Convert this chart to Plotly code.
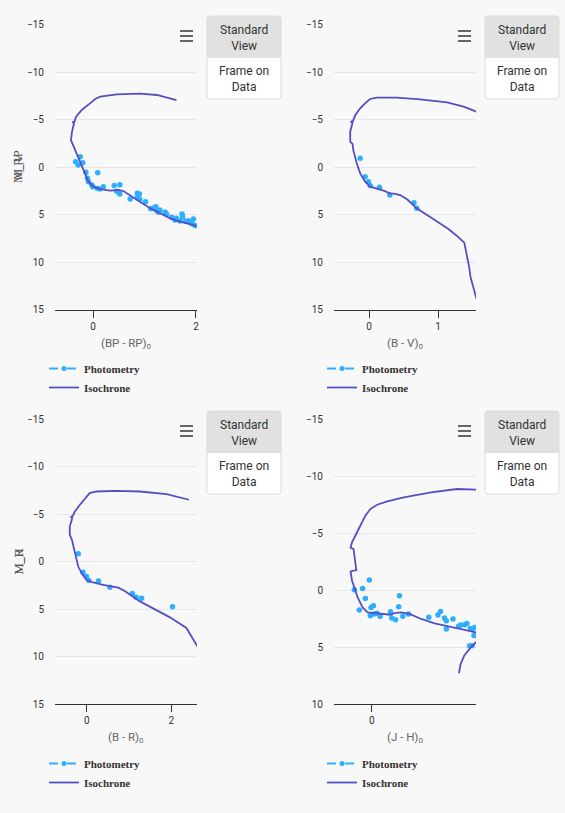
import plotly.graph_objects as go

# ---------------- data ----------------
# Panel 1: (BP - RP)0 vs M_RP
phot1_x = [-0.34, -0.25, -0.29, -0.20, -0.14, 0.09, -0.11, -0.09, -0.025, -0.006, 0.084, 0.136, 0.20, 0.41,
           0.52, 0.49, 0.52, 0.46, 0.72, 0.86, 0.90, 0.86, 0.91, 1.02, 1.12, 1.17, 1.22, 1.24, 1.27, 1.30, 1.40,
           1.43, 1.53, 1.59, 1.62, 1.69, 1.73, 1.74, 1.80, 1.85, 1.90, 1.93, 1.95, 1.98]
phot1_y = [-0.56, -1.08, -0.20, -0.45, 0.56, 0.60, 1.19, 1.54, 1.90, 2.07, 2.25, 2.32, 2.07, 1.96,
           1.86, 2.67, 2.84, 2.55, 3.37, 2.77, 2.84, 3.19, 3.40, 3.65, 4.40, 4.35, 4.18, 4.60, 4.75, 4.53, 4.77,
           4.95, 5.30, 5.58, 5.40, 5.68, 4.95, 5.23, 5.70, 5.65, 5.86, 6.00, 5.47, 6.17]
iso1_x = [2.01, 1.88, 1.69, 1.50, 1.30, 1.11, 0.91, 0.72, 0.59, 0.49, 0.33, 0.14, 0.01, -0.09, -0.155, -0.22,
          -0.32, -0.38, -0.43, -0.41, -0.37, -0.40, -0.36, -0.33, -0.22, -0.06, 0.04, 0.14, 0.46, 0.91, 1.24, 1.62]
iso1_y = [6.20, 6.03, 5.75, 5.40, 4.88, 4.35, 3.65, 2.95, 2.53, 2.42, 2.49, 2.32, 2.07, 1.54, 0.67, -0.20,
          -1.44, -2.14, -2.84, -3.70, -4.60, -4.70, -4.80, -5.30, -6.00, -6.70, -7.16, -7.40, -7.65, -7.72, -7.58, -7.05]

# Panel 2: (B - V)0 vs M_V
phot2_x = [-0.13, -0.058, -0.01, 0.014, 0.15, 0.30, 0.65, 0.69]
phot2_y = [-0.91, 1.02, 1.54, 1.96, 2.14, 2.95, 3.75, 4.35]
iso2_x = [1.58, 1.546, 1.51, 1.47, 1.45, 1.42, 1.38, 1.27, 1.15, 0.93, 0.69, 0.55, 0.45, 0.36, 0.31, 0.21,
          0.11, 0.014, -0.058, -0.13, -0.18, -0.23, -0.24, -0.275, -0.275, -0.24, -0.27, -0.235, -0.20, -0.13,
          -0.06, 0.014, 0.11, 0.40, 0.74, 1.13, 1.37, 1.546, 1.60]
iso2_y = [14.5, 13.65, 12.77, 11.55, 10.5, 9.44, 7.96, 7.23, 6.53, 5.47, 4.35, 3.40, 2.95, 2.80, 2.80, 2.49,
          2.25, 2.07, 1.54, 0.67, -0.39, -1.79, -2.42, -2.67, -3.72, -4.70, -4.75, -4.85, -5.47, -6.18,
          -6.70, -7.16, -7.30, -7.30, -7.12, -6.80, -6.35, -5.90, -5.70]

# Panel 3: (B - R)0 vs M_R
phot3_x = [-0.20, -0.088, -0.007, 0.05, 0.28, 0.55, 1.08, 1.17, 1.30, 2.03]
phot3_y = [-0.81, 1.12, 1.58, 2.00, 2.05, 2.72, 3.37, 3.77, 3.87, 4.77]
iso3_x = [2.68, 2.48, 2.36, 1.96, 1.60, 1.26, 1.08, 0.90, 0.75, 0.63, 0.55, 0.39, 0.15, -0.007, -0.12, -0.20,
          -0.28, -0.35, -0.40, -0.40, -0.34, -0.38, -0.33, -0.28, -0.16, -0.04, 0.07, 0.23, 0.70, 1.26, 1.89, 2.42]
iso3_y = [9.40, 7.89, 7.00, 5.85, 5.00, 4.20, 3.65, 3.10, 2.75, 2.62, 2.60, 2.45, 2.21, 1.93, 1.22, 0.53,
          -0.88, -2.28, -2.81, -3.68, -4.60, -4.68, -4.78, -5.26, -5.97, -6.67, -7.20, -7.37, -7.44, -7.37, -7.09, -6.50]

# Panel 4: (J - H)0 vs M_H
phot4_x = [-0.021, -0.078, -0.148, -0.055, 0.233, -0.106, -0.007, 0.013, -0.013, 0.021, 0.044, 0.07, 0.157,
           0.168, 0.20, 0.227, 0.261, 0.309, 0.481, 0.558, 0.58, 0.614, 0.629, 0.685, 0.629, 0.733, 0.75, 0.784,
           0.803, 0.832, 0.849, 0.869, 0.863, 0.846, 0.826]
phot4_y = [-0.88, -0.14, -0.03, 0.74, 0.50, 1.75, 1.53, 1.38, 2.25, 2.10, 2.05, 2.31, 1.90,
           2.46, 2.60, 1.46, 2.31, 2.10, 2.40, 2.19, 1.88, 2.46, 2.69, 2.54, 3.42, 3.19, 3.07, 3.04,
           2.93, 3.37, 3.48, 3.28, 4.00, 4.89, 4.89]
iso4_x = [0.736, 0.75, 0.78, 0.835, 0.883, 0.95, 0.883, 0.81, 0.67, 0.53, 0.417, 0.318, 0.247, 0.19, 0.16,
          0.106, 0.021, -0.036, -0.078, -0.12, -0.148, -0.168, -0.18, -0.131, -0.142, -0.155, -0.18, -0.168,
          -0.14, -0.097, -0.055, -0.013, 0.044, 0.13, 0.27, 0.50, 0.72, 0.883, 0.95]
iso4_y = [7.30, 6.50, 5.76, 5.03, 4.55, 4.00, 3.72, 3.57, 3.28, 2.93, 2.54, 2.10, 1.96, 2.02, 2.17,
          2.10, 2.05, 1.96, 1.53, 0.65, -0.23, -0.82, -1.63, -1.75, -2.57, -3.60, -3.70, -4.18,
          -4.76, -5.64, -6.52, -7.10, -7.48, -7.77, -8.12, -8.56, -8.86, -8.80, -8.78]

x_titles = ["(BP - RP)<sub>0</sub>", "(B - V)<sub>0</sub>", "(B - R)<sub>0</sub>", "(J - H)<sub>0</sub>"]
y_titles = ["M_RP", "M_V", "M_R", "M_H"]
x_ranges = [[-0.74, 2.02], [-0.51, 1.55], [-0.75, 2.61], [-0.32, 0.88]]
x_ticks = [[0, 2], [0, 1], [0, 2], [0]]
y_ranges = [[15, -15], [15, -15], [15, -15], [10, -15]]
y_ticks = [[-15, -10, -5, 0, 5, 10, 15], [-15, -10, -5, 0, 5, 10, 15],
           [-15, -10, -5, 0, 5, 10, 15], [-15, -10, -5, 0, 5, 10]]
legend_names = ["Photometry", "Isochrone"]
button_labels = ["Standard<br>View", "Frame on<br>Data"]

phot = [(phot1_x, phot1_y), (phot2_x, phot2_y), (phot3_x, phot3_y), (phot4_x, phot4_y)]
iso = [(iso1_x, iso1_y), (iso2_x, iso2_y), (iso3_x, iso3_y), (iso4_x, iso4_y)]

# ---------------- style / layout ----------------
W, H = 565, 813
BG = "#f8f8f8"
C_PHOT = "#2caffe"
C_ISO = "#544fc5"


def fx(v):
    return v / W


def fy(v):
    return 1 - v / H


# pixel geometry of each panel: (plot left, plot right, plot top, plot bottom, dx, dy)
cols = [(55, 197, 0), (334, 476, 278)]
rows = [(24.5, 309.5, 0), (419, 704, 395)]
geo = []
for r in rows:
    for c in cols:
        geo.append((c[0], c[1], r[0], r[1], c[2], r[2]))

fig = go.Figure()
layout = dict(width=W, height=H, autosize=False, margin=dict(l=0, r=0, t=0, b=0, pad=0, autoexpand=False),
              paper_bgcolor=BG, plot_bgcolor=BG, font=dict(family="Roboto, Arial, sans-serif", color="#333"),
              shapes=[], annotations=[], showlegend=True)


def ann(x, y, text, font, angle=0):
    return dict(x=fx(x), y=fy(y), xref="paper", yref="paper", text=text, showarrow=False,
                xanchor="center", yanchor="middle", textangle=angle, font=font)


for i in range(4):
    xl, xr, yt, yb, dx, dy = geo[i]
    sfx = "" if i == 0 else str(i + 1)
    xa, ya = "x" + sfx, "y" + sfx
    lg = "legend" + sfx

    fig.add_trace(go.Scatter(x=phot[i][0], y=phot[i][1], mode="markers", xaxis=xa, yaxis=ya,
                             marker=dict(color=C_PHOT, size=5.5), showlegend=False, hoverinfo="skip",
                             legendgroup="p%d" % i, legend=lg))
    fig.add_trace(go.Scatter(x=[None], y=[None], mode="lines+markers", xaxis=xa, yaxis=ya, name=legend_names[0],
                             line=dict(color=C_PHOT, width=2, dash="dash"), marker=dict(color=C_PHOT, size=5),
                             legendgroup="p%d" % i, legend=lg))
    fig.add_trace(go.Scatter(x=iso[i][0], y=iso[i][1], mode="lines", xaxis=xa, yaxis=ya, name=legend_names[1],
                             line=dict(color=C_ISO, width=1.8), hoverinfo="skip", legend=lg))

    layout["xaxis" + sfx] = dict(domain=[fx(xl), fx(xr)], range=x_ranges[i], anchor=ya, tickvals=x_ticks[i],
                                 ticks="outside", ticklen=7, tickcolor="#333", showline=True, linecolor="#333",
                                 linewidth=1, showgrid=False, zeroline=False, fixedrange=True, automargin=False,
                                 tickfont=dict(size=10, color="#333"))
    layout["yaxis" + sfx] = dict(domain=[fy(yb), fy(yt)], range=y_ranges[i], anchor=xa, tickvals=y_ticks[i],
                                 showgrid=True, gridcolor="#e6e6e6", gridwidth=1, zeroline=False, showline=False,
                                 ticks="", ticklabelstandoff=10, fixedrange=True, automargin=False,
                                 tickfont=dict(size=10, color="#333"))

    # axis titles
    layout["annotations"].append(ann(18, (yt + yb) / 2, y_titles[i],
                                     dict(family="Liberation Serif, serif", size=12.5, color="#555"), angle=-90))
    layout["annotations"].append(ann((xl + xr) / 2, yb + 33.5, x_titles[i], dict(size=11.5, color="#666")))

    # legend
    layout[lg] = dict(x=fx(44 + dx), y=fy(354 + dy), xanchor="left", yanchor="top", bgcolor="rgba(0,0,0,0)",
                      tracegroupgap=0, itemwidth=30,
                      font=dict(family="Liberation Serif, serif", size=11, color="#333", weight="bold"))

    # button group
    bx0, bx1, by0, bym, by1, rr = 207 + dx, 281 + dx, 16 + dy, 58 + dy, 99 + dy, 3

    def P(x, y):
        return "%.5f,%.5f" % (fx(x), fy(y))

    top_path = ("M" + P(bx0, bym) + " L" + P(bx0, by0 + rr) + " Q" + P(bx0, by0) + " " + P(bx0 + rr, by0) +
                " L" + P(bx1 - rr, by0) + " Q" + P(bx1, by0) + " " + P(bx1, by0 + rr) + " L" + P(bx1, bym) + " Z")
    bot_path = ("M" + P(bx0, bym) + " L" + P(bx1, bym) + " L" + P(bx1, by1 - rr) + " Q" + P(bx1, by1) + " " +
                P(bx1 - rr, by1) + " L" + P(bx0 + rr, by1) + " Q" + P(bx0, by1) + " " + P(bx0, by1 - rr) + " Z")
    out_path = ("M" + P(bx0 + rr, by0) + " L" + P(bx1 - rr, by0) + " Q" + P(bx1, by0) + " " + P(bx1, by0 + rr) +
                " L" + P(bx1, by1 - rr) + " Q" + P(bx1, by1) + " " + P(bx1 - rr, by1) +
                " L" + P(bx0 + rr, by1) + " Q" + P(bx0, by1) + " " + P(bx0, by1 - rr) +
                " L" + P(bx0, by0 + rr) + " Q" + P(bx0, by0) + " " + P(bx0 + rr, by0) + " Z")
    layout["shapes"].append(dict(type="path", xref="paper", yref="paper", path=top_path,
                                 fillcolor="#e1e1e1", line=dict(width=0), layer="above"))
    layout["shapes"].append(dict(type="path", xref="paper", yref="paper", path=bot_path,
                                 fillcolor="#ffffff", line=dict(width=0), layer="above"))
    layout["shapes"].append(dict(type="path", xref="paper", yref="paper", path=out_path,
                                 line=dict(color="#dcdcdc", width=1), layer="above"))
    layout["annotations"].append(ann((bx0 + bx1) / 2, (by0 + bym) / 2 + 0.5, button_labels[0],
                                     dict(size=12, color="#333")))
    layout["annotations"].append(ann((bx0 + bx1) / 2, (bym + by1) / 2 + 0.5, button_labels[1],
                                     dict(size=12, color="#333")))

    # hamburger menu icon
    for ly in (31, 36, 41):
        layout["shapes"].append(dict(type="line", xref="paper", yref="paper",
                                     x0=fx(180 + dx), x1=fx(193 + dx), y0=fy(ly + dy), y1=fy(ly + dy),
                                     line=dict(color="#666666", width=2)))

fig.update_layout(**layout)
fig.write_html("out.html", config={"displayModeBar": False})
